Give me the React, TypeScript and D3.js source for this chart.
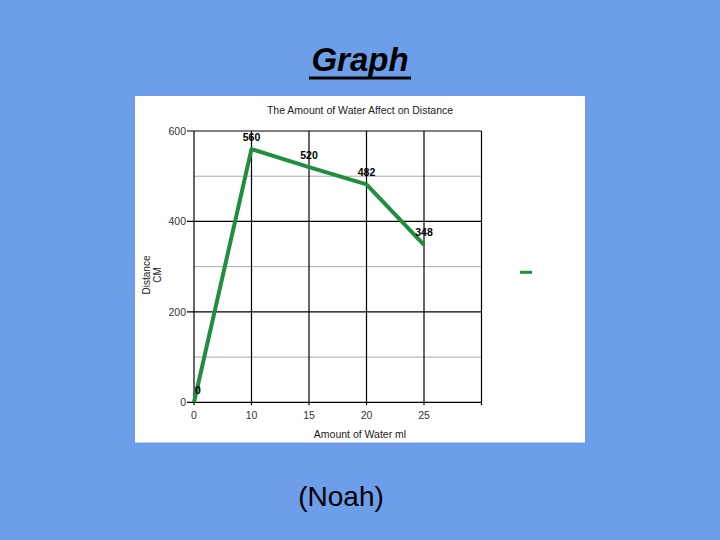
import React from "react";
import * as d3 from "d3";

const categories = ["0", "10", "15", "20", "25"];
const values = [0, 560, 520, 482, 348];
const yMajorTicks = [0, 200, 400, 600];
const yMinorTicks = [100, 300, 500];
const chartTitle = "The Amount of Water Affect on Distance";
const xTitle = "Amount of Water ml";
const yTitleLines = ["Distance", "CM"];
const slideTitle = "Graph";
const caption = "(Noah)";

const W = 720;
const H = 540;
const plot = { left: 194, right: 481.5, top: 131, bottom: 402.3 };
const green = "#1f8e3d";
const font = "Liberation Sans, Arial, sans-serif";

export default function App() {
  const x = d3.scaleLinear().domain([0, categories.length]).range([plot.left, plot.right]);
  const y = d3.scaleLinear().domain([0, 600]).range([plot.bottom, plot.top]);
  const line = d3
    .line<number>()
    .x((_, i) => x(i))
    .y((d) => y(d));
  const slots = d3.range(categories.length + 1);

  return (
    <svg
      width={W}
      height={H}
      style={{ position: "absolute", left: 0, top: 0, display: "block" }}
      fontFamily={font}
    >
      <rect width={W} height={H} fill="#6c9ee9" />
      <text
        x={360}
        y={71}
        textAnchor="middle"
        fontSize={33}
        fontWeight="bold"
        fontStyle="italic"
        fill="#000"
      >
        {slideTitle}
      </text>
      <rect x={309} y={76.5} width={102} height={3} fill="#000" />

      <rect x={135} y={96} width={450} height={346.5} fill="#fff" />

      <text x={360} y={113.5} textAnchor="middle" fontSize={10.5} fill="#222">
        {chartTitle}
      </text>

      {yMinorTicks.map((t) => (
        <line key={"m" + t} x1={plot.left} x2={plot.right} y1={y(t)} y2={y(t)} stroke="#aaa" strokeWidth={1} />
      ))}
      {yMajorTicks.map((t) => (
        <g key={"M" + t}>
          <line x1={plot.left - 7} x2={plot.right} y1={y(t)} y2={y(t)} stroke="#000" strokeWidth={1.2} />
          <text x={plot.left - 8} y={y(t) + 3.8} textAnchor="end" fontSize={10.5} fill="#333">
            {t}
          </text>
        </g>
      ))}
      {slots.map((i) => (
        <line key={"v" + i} x1={x(i)} x2={x(i)} y1={plot.top} y2={plot.bottom + 3} stroke="#000" strokeWidth={1.2} />
      ))}
      {categories.map((c, i) => (
        <text key={"x" + c} x={x(i)} y={419} textAnchor="middle" fontSize={10.5} fill="#333">
          {c}
        </text>
      ))}

      <text x={360} y={437.5} textAnchor="middle" fontSize={10.5} fill="#222">
        {xTitle}
      </text>
      <g transform="translate(150,275) rotate(-90)">
        {yTitleLines.map((t, k) => (
          <text key={t} x={0} y={k * 11} textAnchor="middle" fontSize={10} fill="#222">
            {t}
          </text>
        ))}
      </g>

      <path d={line(values) || ""} fill="none" stroke={green} strokeWidth={4} strokeLinejoin="round" />

      {values.map((v, i) => (
        <text
          key={"l" + i}
          x={x(i) + (i === 0 ? 4 : 0)}
          y={y(v) - 8.5}
          textAnchor="middle"
          fontSize={10.5}
          fontWeight="bold"
          fill="#000"
        >
          {v}
        </text>
      ))}

      <line x1={520} x2={532} y1={272.3} y2={272.3} stroke={green} strokeWidth={3} />

      <text x={341} y={506} textAnchor="middle" fontSize={28} fill="#000">
        {caption}
      </text>
    </svg>
  );
}
